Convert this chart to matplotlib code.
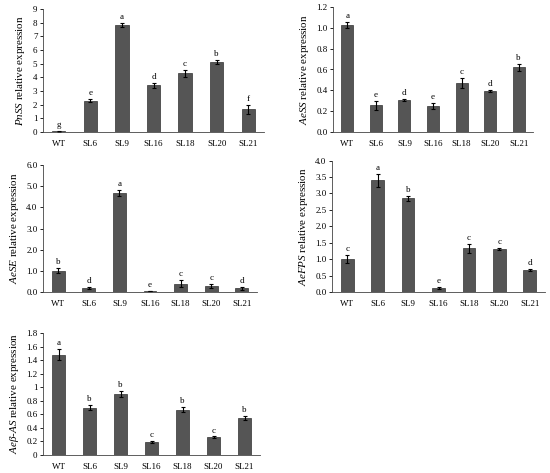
import matplotlib
matplotlib.use("Agg")
import matplotlib.pyplot as plt
from matplotlib.ticker import FuncFormatter

plt.rcParams['font.family'] = ['Liberation Serif', 'DejaVu Serif']
plt.rcParams['mathtext.fontset'] = 'custom'
plt.rcParams['mathtext.rm'] = 'Liberation Serif'
plt.rcParams['mathtext.it'] = 'Liberation Serif:italic'

lines = ["WT", "SL6", "SL9", "SL16", "SL18", "SL20", "SL21"]

pnss = [0.05, 2.30, 7.85, 3.42, 4.30, 5.10, 1.65]
pnss_err = [0.03, 0.10, 0.15, 0.20, 0.25, 0.15, 0.35]
pnss_let = ["g", "e", "a", "d", "c", "b", "f"]

aess = [1.03, 0.255, 0.31, 0.25, 0.47, 0.39, 0.62]
aess_err = [0.03, 0.04, 0.008, 0.03, 0.05, 0.01, 0.03]
aess_let = ["a", "e", "d", "e", "c", "d", "b"]

aese = [1.00, 0.18, 4.68, 0.05, 0.40, 0.28, 0.17]
aese_err = [0.12, 0.06, 0.15, 0.01, 0.15, 0.10, 0.07]
aese_let = ["b", "d", "a", "e", "c", "c", "d"]

aefps = [1.00, 3.40, 2.85, 0.12, 1.33, 1.32, 0.66]
aefps_err = [0.12, 0.20, 0.08, 0.02, 0.13, 0.03, 0.03]
aefps_let = ["c", "a", "b", "e", "c", "c", "d"]

aebas = [1.48, 0.70, 0.90, 0.19, 0.67, 0.26, 0.55]
aebas_err = [0.08, 0.04, 0.05, 0.015, 0.04, 0.015, 0.03]
aebas_let = ["a", "b", "b", "c", "b", "c", "b"]

W, H = 550, 473
fig = plt.figure(figsize=(W / 100, H / 100), dpi=100)

def rect(x0, y0, x1, y1):
    return [x0 / W, 1 - y1 / H, (x1 - x0) / W, (y1 - y0) / H]

panels = [
    (rect(43, 9, 264, 132), pnss, pnss_err, pnss_let, r"$\mathit{PnSS}$ relative expression",
     (0, 9), 1, lambda v, p: f"{v:.0f}"),
    (rect(333, 7, 533, 132), aess, aess_err, aess_let, r"$\mathit{AeSS}$ relative expression",
     (0, 1.2), 0.2, lambda v, p: f"{v:.1f}"),
    (rect(43, 165, 257, 292), aese, aese_err, aese_let, r"$\mathit{AeSE}$ relative expression",
     (0, 6), 1, lambda v, p: f"{v:.1f}"),
    (rect(332, 160.6, 545, 292), aefps, aefps_err, aefps_let, r"$\mathit{AeFPS}$ relative expression",
     (0, 4), 0.5, lambda v, p: f"{v:.1f}"),
    (rect(43, 333, 260, 455), aebas, aebas_err, aebas_let, r"$\mathit{Ae\beta}$-$\mathit{AS}$ relative expression",
     (0, 1.8), 0.2, lambda v, p: f"{v:g}"),
]

for r, vals, errs, lets, ylab, ylim, step, fmt in panels:
    ax = fig.add_axes(r)
    x = list(range(len(lines)))
    ax.bar(x, vals, width=0.42, color="#555555", edgecolor="#333333", linewidth=0.5,
           yerr=errs, error_kw=dict(ecolor="black", elinewidth=0.8, capsize=1.5, capthick=0.8))
    top = ylim[1]
    for xi, v, e, l in zip(x, vals, errs, lets):
        ax.text(xi, v + e + top * 0.015, l, ha="center", va="bottom", fontsize=6.5)
    ax.set_xlim(-0.5, 6.5)
    ax.set_ylim(*ylim)
    n = int(round((ylim[1] - ylim[0]) / step))
    ax.set_yticks([ylim[0] + i * step for i in range(n + 1)])
    ax.yaxis.set_major_formatter(FuncFormatter(fmt))
    ax.set_xticks(x)
    ax.set_xticklabels(lines)
    ax.tick_params(axis="x", length=0, labelsize=6.5, pad=6)
    ax.tick_params(axis="y", length=2, width=0.6, labelsize=6.5, pad=2, direction="out")
    for s in ("top", "right"):
        ax.spines[s].set_visible(False)
    for s in ("left", "bottom"):
        ax.spines[s].set_linewidth(0.6)
        ax.spines[s].set_color("#444444")
    ax.set_ylabel(ylab, fontsize=7.9, labelpad=4)

fig.savefig("out.png", dpi=100)
